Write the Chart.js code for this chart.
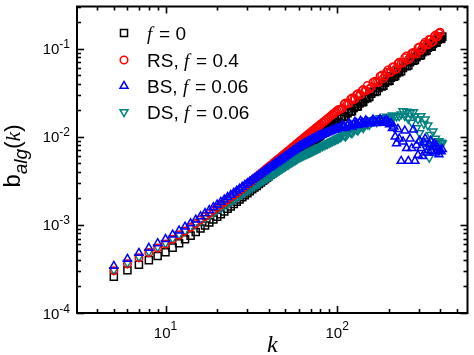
<!DOCTYPE html>
<html><head><meta charset="utf-8">
<style>html,body{margin:0;padding:0;background:#fff;}#wrap{width:474px;height:355px;}</style>
<script src="https://cdn.jsdelivr.net/npm/chart.js@4.4.0/dist/chart.umd.min.js"></script>
</head><body><div id="wrap"><canvas id="c" width="474" height="355"></canvas></div>
<script>
const kValues = [5,6,7,8,9,10,11,12,13,14,15,16,17,18,19,20,21,22,23,24,25,26,27,28,29,30,
  32,34,36,38,40,42,44,46,48,50,53,56,59,62,65,68,71,74,77,80,84,88,92,96,100,
  105,110,115,120,125,130,135,140,145,150,158,166,174,182,190,198,206,214,222,230,
  242,254,266,278,290,302,314,326,338,350,362,374,386,398,410];
const kValuesB = [31,33,35,37,39,41,43,45,47,49,51,52,54,55,57,58,60,61,63,64,66,67,69,70,72,73,75,76,78,79,
  82,86,90,94,98,102,107,112,117,122,127,132,137,142,147,154,162,170,178,186,194,202,210,
  218,226,236,248,260,272,284,296,308,320,332,344,356,368,380,392,404];

const f0Values = [2.58e-4,3.05e-4,3.52e-4,3.98e-4,4.44e-4,4.89e-4,5.52e-4,6.18e-4,6.87e-4,7.55e-4,
  8.30e-4,9.08e-4,9.84e-4,1.067e-3,1.148e-3,1.233e-3,1.318e-3,1.416e-3,1.52e-3,1.62e-3,
  1.728e-3,1.836e-3,1.943e-3,2.056e-3,2.17e-3,2.288e-3,
  2.53e-3,2.77e-3,3.03e-3,3.30e-3,3.57e-3,3.85e-3,4.13e-3,4.43e-3,4.73e-3,5.04e-3,
  5.51e-3,6.00e-3,6.51e-3,7.01e-3,7.55e-3,8.11e-3,8.65e-3,9.22e-3,9.79e-3,1.04e-2,
  1.121e-2,1.204e-2,1.292e-2,1.378e-2,1.469e-2,
  1.60e-2,1.68e-2,1.85e-2,1.93e-2,2.12e-2,2.19e-2,2.39e-2,2.46e-2,2.68e-2,2.74e-2,
  3.07e-2,3.22e-2,3.58e-2,3.72e-2,4.11e-2,4.26e-2,4.67e-2,4.80e-2,5.24e-2,5.40e-2,
  6.02e-2,6.32e-2,6.98e-2,7.28e-2,7.99e-2,8.30e-2,9.08e-2,9.35e-2,0.1019,0.1048,
  0.1137,0.1164,0.1259,0.1284,0.1366];
const f0ValuesB = [2.408e-3,2.652e-3,2.905e-3,3.165e-3,3.433e-3,3.709e-3,3.99e-3,4.28e-3,4.58e-3,4.88e-3,
  5.19e-3,5.35e-3,5.67e-3,5.84e-3,6.17e-3,6.33e-3,6.68e-3,6.85e-3,7.20e-3,7.38e-3,
  7.73e-3,7.91e-3,8.28e-3,8.47e-3,8.84e-3,9.04e-3,9.42e-3,9.61e-3,1.001e-2,1.021e-2,
  1.081e-2,1.164e-2,1.248e-2,1.335e-2,1.423e-2,1.47e-2,1.68e-2,1.70e-2,1.94e-2,1.95e-2,
  2.21e-2,2.21e-2,2.49e-2,2.48e-2,2.78e-2,2.82e-2,3.24e-2,3.29e-2,3.76e-2,3.80e-2,
  4.31e-2,4.33e-2,4.89e-2,4.88e-2,5.49e-2,5.53e-2,6.36e-2,6.45e-2,7.35e-2,7.41e-2,
  8.40e-2,8.43e-2,9.51e-2,9.49e-2,0.1066,0.1059,0.1186,0.1175,0.1310,0.1294];

const rsValues = [3.01e-4,3.61e-4,4.23e-4,4.84e-4,5.45e-4,6.07e-4,6.86e-4,7.69e-4,8.53e-4,9.39e-4,
  1.037e-3,1.138e-3,1.242e-3,1.35e-3,1.462e-3,1.574e-3,1.688e-3,1.804e-3,1.929e-3,2.05e-3,
  2.175e-3,2.30e-3,2.43e-3,2.573e-3,2.72e-3,2.874e-3,
  3.187e-3,3.51e-3,3.85e-3,4.20e-3,4.56e-3,4.92e-3,5.30e-3,5.70e-3,6.10e-3,6.51e-3,
  7.14e-3,7.80e-3,8.49e-3,9.19e-3,9.92e-3,1.067e-2,1.14e-2,1.218e-2,1.296e-2,1.379e-2,
  1.489e-2,1.602e-2,1.724e-2,1.841e-2,1.968e-2,
  2.05e-2,2.34e-2,2.36e-2,2.66e-2,2.65e-2,2.99e-2,2.96e-2,3.33e-2,3.29e-2,3.80e-2,
  3.65e-2,4.24e-2,4.11e-2,4.96e-2,4.88e-2,5.71e-2,5.37e-2,6.15e-2,5.86e-2,6.98e-2,
  6.94e-2,8.22e-2,7.80e-2,9.02e-2,8.65e-2,0.1037,0.1015,0.1181,0.1107,0.1262,
  0.1198,0.1419,0.1374,0.1530,null];
const rsValuesB = [3.03e-3,3.35e-3,3.68e-3,4.02e-3,4.38e-3,4.74e-3,5.12e-3,5.50e-3,5.90e-3,6.30e-3,
  6.72e-3,6.93e-3,7.36e-3,7.59e-3,8.03e-3,8.25e-3,8.73e-3,8.96e-3,9.43e-3,9.67e-3,
  1.016e-2,1.041e-2,1.090e-2,1.116e-2,1.167e-2,1.192e-2,1.245e-2,1.272e-2,1.325e-2,1.352e-2,
  1.434e-2,1.547e-2,1.663e-2,1.782e-2,1.905e-2,2.03e-2,2.09e-2,2.41e-2,2.38e-2,2.74e-2,
  2.68e-2,3.07e-2,2.99e-2,3.42e-2,3.32e-2,3.48e-2,4.14e-2,4.18e-2,4.84e-2,4.58e-2,
  5.39e-2,5.39e-2,6.16e-2,5.77e-2,6.73e-2,6.75e-2,7.85e-2,7.46e-2,8.82e-2,8.85e-2,
  0.1018,9.56e-2,0.1118,0.1111,0.1267,0.1181,0.1372,0.1354,0.1490,null];

const bsValues = [3.41e-4,4.10e-4,4.79e-4,5.48e-4,6.17e-4,6.87e-4,7.72e-4,8.60e-4,9.50e-4,1.04e-3,
  1.143e-3,1.248e-3,1.356e-3,1.467e-3,1.583e-3,1.697e-3,1.814e-3,1.932e-3,2.06e-3,2.18e-3,
  2.31e-3,2.435e-3,2.56e-3,2.695e-3,2.83e-3,2.96e-3,
  3.24e-3,3.52e-3,3.81e-3,4.11e-3,4.41e-3,4.71e-3,5.02e-3,5.34e-3,5.66e-3,5.99e-3,
  6.48e-3,6.99e-3,7.52e-3,7.97e-3,8.39e-3,8.81e-3,9.20e-3,9.60e-3,1.0e-2,1.038e-2,
  1.078e-2,1.117e-2,1.157e-2,1.194e-2,1.233e-2,
  1.272e-2,1.30e-2,1.33e-2,1.358e-2,1.386e-2,1.413e-2,1.435e-2,1.443e-2,1.454e-2,1.463e-2,
  1.478e-2,1.492e-2,1.505e-2,1.50e-2,1.49e-2,1.47e-2,1.42e-2,1.30e-2,8.4e-3,9.5e-3,
  8.8e-3,7.4e-3,9.5e-3,1.2e-2,8.0e-3,9.0e-3,6.0e-3,9.5e-3,7.0e-3,9.0e-3,
  7.6e-3,6.6e-3,7.4e-3,7.0e-3,7.2e-3];
const bsValuesB = [3.10e-3,3.38e-3,3.67e-3,3.96e-3,4.26e-3,4.56e-3,4.87e-3,5.18e-3,5.50e-3,5.83e-3,
  6.16e-3,6.32e-3,6.66e-3,6.83e-3,7.17e-3,7.35e-3,7.70e-3,7.84e-3,8.11e-3,8.25e-3,
  8.52e-3,8.66e-3,8.93e-3,9.07e-3,9.34e-3,9.47e-3,9.75e-3,9.88e-3,1.015e-2,1.029e-2,
  1.058e-2,1.098e-2,1.137e-2,1.176e-2,1.214e-2,1.25e-2,1.35e-2,1.25e-2,1.41e-2,1.30e-2,
  1.47e-2,1.35e-2,1.51e-2,1.38e-2,1.53e-2,1.40e-2,1.56e-2,1.42e-2,1.58e-2,1.43e-2,
  1.55e-2,1.38e-2,1.25e-2,null,null,null,null,null,null,null,
  null,null,null,null,null,null,null,null,null,null];
const bsTailK = [218,226,236,248,260,272,284,296,308,320,332,344,356,368,380,392,404];
const bsTailValues = [1.0e-2,1.22e-2,5.3e-3,1.17e-2,5.3e-3,7.4e-3,5.3e-3,6.2e-3,7.4e-3,8.6e-3,
  6.6e-3,8.2e-3,6.9e-3,8.3e-3,7.8e-3,6.3e-3,6.8e-3];

const dsValues = [3.08e-4,3.71e-4,4.34e-4,4.96e-4,5.59e-4,6.22e-4,6.99e-4,7.78e-4,8.59e-4,9.40e-4,
  1.025e-3,1.11e-3,1.197e-3,1.287e-3,1.379e-3,1.469e-3,1.56e-3,1.653e-3,1.751e-3,1.845e-3,
  1.943e-3,2.04e-3,2.137e-3,2.238e-3,2.337e-3,2.44e-3,
  2.646e-3,2.85e-3,3.064e-3,3.284e-3,3.50e-3,3.717e-3,3.937e-3,4.17e-3,4.39e-3,4.63e-3,
  4.97e-3,5.33e-3,5.69e-3,6.00e-3,6.29e-3,6.57e-3,6.83e-3,7.10e-3,7.37e-3,7.65e-3,
  8.00e-3,8.36e-3,8.73e-3,9.08e-3,9.45e-3,
  9.89e-3,1.033e-2,1.079e-2,1.122e-2,1.167e-2,1.211e-2,1.254e-2,1.299e-2,1.342e-2,1.387e-2,
  1.458e-2,1.516e-2,1.55e-2,1.58e-2,1.611e-2,1.641e-2,1.67e-2,1.69e-2,1.70e-2,1.72e-2,
  1.95e-2,1.93e-2,1.85e-2,1.90e-2,1.25e-2,1.10e-2,9.0e-3,1.58e-2,1.35e-2,1.05e-2,
  1.15e-2,9.5e-3,8.0e-3,7.7e-3,8.4e-3];
const dsValuesB = [2.543e-3,2.75e-3,2.96e-3,3.175e-3,3.39e-3,3.61e-3,3.83e-3,4.055e-3,4.28e-3,4.51e-3,
  4.745e-3,4.86e-3,5.095e-3,5.21e-3,5.45e-3,5.57e-3,5.81e-3,5.92e-3,6.10e-3,6.19e-3,
  6.37e-3,6.46e-3,6.65e-3,6.74e-3,6.92e-3,7.01e-3,7.20e-3,7.29e-3,7.47e-3,7.56e-3,
  7.83e-3,8.19e-3,8.55e-3,8.91e-3,9.27e-3,9.63e-3,1.05e-2,1.01e-2,1.14e-2,1.10e-2,
  1.23e-2,1.18e-2,1.32e-2,1.26e-2,1.41e-2,1.37e-2,1.55e-2,1.47e-2,1.63e-2,1.53e-2,
  1.69e-2,1.59e-2,1.75e-2,null,null,null,null,null,null,null,
  null,null,null,null,null,null,null,null,null,null];
const dsTailK = [236,248,260,272,284,296,308,320,332,344,356,368,380,392,404];
const dsTailValues = [1.80e-2,1.72e-2,1.60e-2,1.45e-2,1.70e-2,1.58e-2,1.72e-2,1.40e-2,7.4e-3,5.8e-3,
  8.2e-3,7.6e-3,8.8e-3,8.9e-3,8.6e-3];

const xMajorTicks = [10, 100];
const xTickLabels = [['10','1'],['10','2']];
const yMajorTicks = [1e-4, 1e-3, 1e-2, 1e-1];
const yTickLabels = [['10','-4'],['10','-3'],['10','-2'],['10','-1']];
const seriesNames = ['f = 0', 'RS, f = 0.4', 'BS, f = 0.06', 'DS, f = 0.06'];
const legendParts = [
  [['f','i'],[' = 0','n']],
  [['RS, ','n'],['f','i'],[' = 0.4','n']],
  [['BS, ','n'],['f','i'],[' = 0.06','n']],
  [['DS, ','n'],['f','i'],[' = 0.06','n']]
];
const colors = ['#000000', '#ff0000', '#0000ff', '#008080'];

function pts(ks, vs) {
  const out = [];
  for (let i = 0; i < ks.length; i++) if (vs[i] != null) out.push({x: ks[i], y: vs[i]});
  return out;
}

const SANS = '"Liberation Sans", Arial, sans-serif';
const SERIF = '"Liberation Serif", "Times New Roman", serif';

function drawMarker(ctx, style, x, y) {
  ctx.beginPath();
  if (style === 'rect') {
    const h = 5 * Math.SQRT1_2;
    ctx.rect(x - h, y - h, 2 * h, 2 * h);
  } else if (style === 'circle') {
    ctx.arc(x, y, 3.8, 0, Math.PI * 2);
  } else {
    const r = 4.6, s = style === 'tri' ? 1 : -1;
    for (let i = 0; i < 3; i++) {
      const a = i * 2 * Math.PI / 3;
      const px = x + Math.sin(a) * r, py = y - s * Math.cos(a) * r;
      if (i === 0) ctx.moveTo(px, py); else ctx.lineTo(px, py);
    }
    ctx.closePath();
  }
  ctx.stroke();
}

const decor = {
  id: 'decor',
  afterDatasetsDraw(chart) {
    const ctx = chart.ctx, a = chart.chartArea, xs = chart.scales.x, ys = chart.scales.y;
    ctx.save();
    ctx.strokeStyle = '#000';
    ctx.lineWidth = 2;
    ctx.strokeRect(a.left, a.top, a.right - a.left, a.bottom - a.top);
    ctx.lineWidth = 1.6;
    const seg = (x1, y1, x2, y2) => { ctx.beginPath(); ctx.moveTo(x1, y1); ctx.lineTo(x2, y2); ctx.stroke(); };
    for (let d = 0; d <= 3; d++) for (let m = 1; m <= 9; m++) {
      const v = m * Math.pow(10, d);
      if (v < xs.min || v > xs.max) continue;
      const p = Math.round(xs.getPixelForValue(v)) + 0.5;
      const len = m === 1 ? 7 : 4;
      seg(p, a.bottom, p, a.bottom - len);
      seg(p, a.top, p, a.top + len);
    }
    for (let d = -4; d <= 0; d++) for (let m = 1; m <= 9; m++) {
      const v = m * Math.pow(10, d);
      if (v < ys.min * 0.999 || v > ys.max * 1.001) continue;
      const p = Math.round(ys.getPixelForValue(v)) + 0.5;
      const len = m === 1 ? 7 : 4;
      seg(a.left, p, a.left + len, p);
      seg(a.right, p, a.right - len, p);
    }
    ctx.fillStyle = '#000';
    ctx.textAlign = 'left';
    ctx.textBaseline = 'alphabetic';
    const baseFont = '15px ' + SANS, supFont = '12px ' + SANS;
    yMajorTicks.forEach((v, i) => {
      const py = ys.getPixelForValue(v);
      ctx.font = supFont; const ws = ctx.measureText(yTickLabels[i][1]).width;
      ctx.font = baseFont; const wb = ctx.measureText(yTickLabels[i][0]).width;
      const xe = 70;
      ctx.fillText(yTickLabels[i][0], xe - ws - wb, py + 5.5);
      ctx.font = supFont; ctx.fillText(yTickLabels[i][1], xe - ws, py - 0.5);
    });
    xMajorTicks.forEach((v, i) => {
      const px = xs.getPixelForValue(v);
      ctx.font = supFont; const ws = ctx.measureText(xTickLabels[i][1]).width;
      ctx.font = baseFont; const wb = ctx.measureText(xTickLabels[i][0]).width;
      const x0 = px - (wb + ws) / 2;
      ctx.fillText(xTickLabels[i][0], x0, 338);
      ctx.font = supFont; ctx.fillText(xTickLabels[i][1], x0 + wb, 330);
    });
    ctx.font = 'italic 24px ' + SERIF;
    ctx.textAlign = 'center';
    ctx.fillText('k', (a.left + a.right) / 2, 352);
    ctx.textAlign = 'left';
    const parts = [['b', '24px ' + SANS, 0], ['alg', 'italic 19px ' + SANS, 7], ['(', '22px ' + SANS, 0], ['k', 'italic 22px ' + SERIF, 0], [')', '22px ' + SANS, 0]];
    let tot = 0;
    parts.forEach(p => { ctx.font = p[1]; p.push(ctx.measureText(p[0]).width); tot += p[3]; });
    ctx.save();
    ctx.translate(20, 156);
    ctx.rotate(-Math.PI / 2);
    let cx = -tot / 2;
    parts.forEach(p => { ctx.font = p[1]; ctx.fillText(p[0], cx, p[2]); cx += p[3]; });
    ctx.restore();
    const styles = ['rect', 'circle', 'tri', 'tridown'];
    const ly = [33, 60, 86, 112];
    for (let i = 0; i < 4; i++) {
      ctx.strokeStyle = colors[i];
      ctx.lineWidth = 1.5;
      drawMarker(ctx, styles[i], 124, ly[i]);
      let tx = 147;
      legendParts[i].forEach(p => {
        ctx.font = (p[1] === 'i' ? 'italic 19px ' + SERIF : '19px ' + SANS);
        ctx.fillStyle = '#000';
        ctx.fillText(p[0], tx, ly[i] + 7);
        tx += ctx.measureText(p[0]).width + (p[1] === 'i' ? 1.5 : 0);
      });
    }
    ctx.restore();
  }
};

const common = { showLine: false, backgroundColor: 'rgba(0,0,0,0)', pointBackgroundColor: 'rgba(0,0,0,0)', pointBorderWidth: 1.5 };

new Chart(document.getElementById('c'), {
  type: 'scatter',
  data: {
    datasets: [
      Object.assign({ label: seriesNames[0], data: pts(kValues, f0Values).concat(pts(kValuesB, f0ValuesB)), pointStyle: 'rect', pointRadius: 5, borderColor: colors[0], pointBorderColor: colors[0], order: 3 }, common),
      Object.assign({ label: seriesNames[1], data: pts(kValues, rsValues).concat(pts(kValuesB, rsValuesB)), pointStyle: 'circle', pointRadius: 3.8, borderColor: colors[1], pointBorderColor: colors[1], order: 1 }, common),
      Object.assign({ label: seriesNames[2], data: pts(kValues, bsValues).concat(pts(kValuesB, bsValuesB), pts(bsTailK, bsTailValues)), pointStyle: 'triangle', pointRadius: 4.6, borderColor: colors[2], pointBorderColor: colors[2], order: 0 }, common),
      Object.assign({ label: seriesNames[3], data: pts(kValues, dsValues).concat(pts(kValuesB, dsValuesB), pts(dsTailK, dsTailValues)), pointStyle: 'triangle', pointRotation: 180, pointRadius: 4.6, borderColor: colors[3], pointBorderColor: colors[3], order: 2 }, common)
    ]
  },
  options: {
    responsive: false,
    animation: false,
    devicePixelRatio: 1,
    events: [],
    layout: { padding: { left: 0, top: 1, right: 4.5, bottom: 0 } },
    plugins: { legend: { display: false }, tooltip: { enabled: false } },
    scales: {
      x: { type: 'logarithmic', min: 3.05, max: 575, grid: { display: false }, border: { display: false }, ticks: { display: false }, afterFit(s) { s.height = 42; } },
      y: { type: 'logarithmic', min: 1e-4, max: 0.3, grid: { display: false }, border: { display: false }, ticks: { display: false }, afterFit(s) { s.width = 77; } }
    }
  },
  plugins: [decor]
});
</script>
</body></html>
